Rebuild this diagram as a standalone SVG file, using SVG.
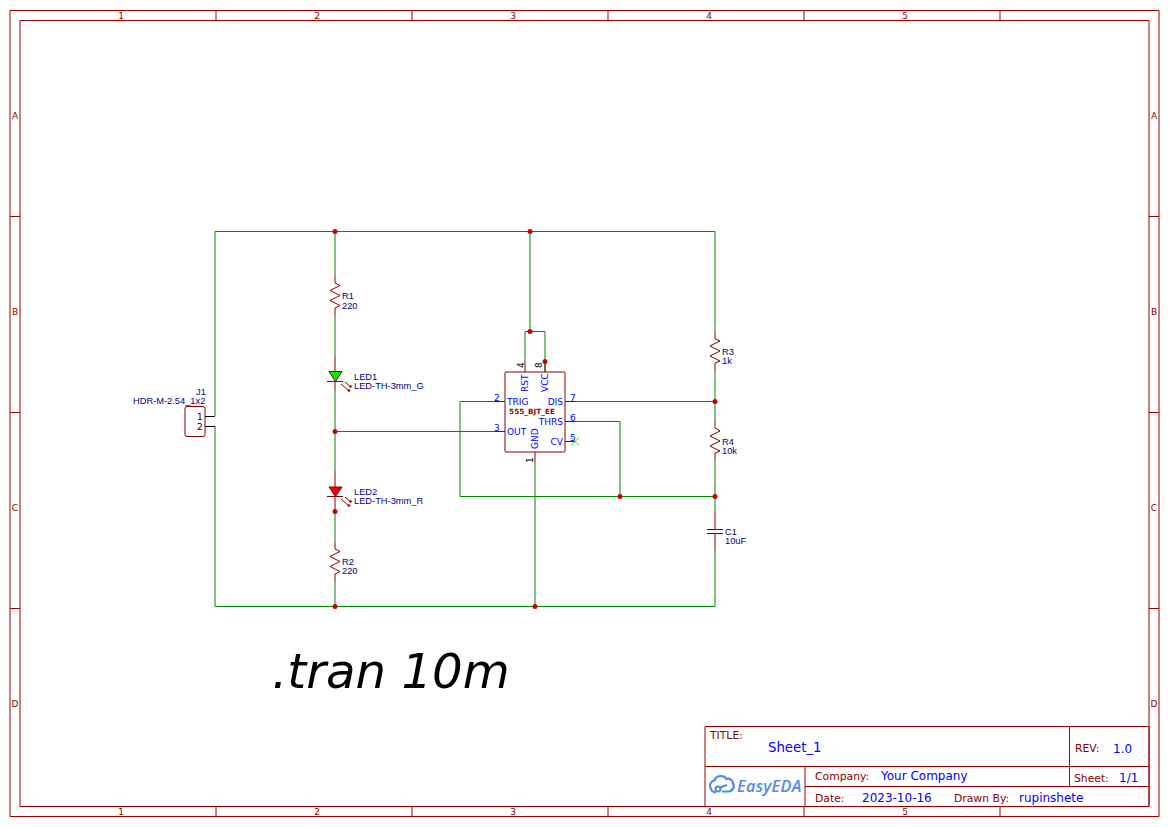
<svg xmlns="http://www.w3.org/2000/svg" width="1169" height="827" viewBox="0 0 1169 827">
<style>
text{font-family:"DejaVu Sans",sans-serif}
.f{fill:none;stroke:#990000;stroke-width:1}
.w{fill:none;stroke:#008800;stroke-width:1}
.s{fill:none;stroke:#880000;stroke-width:1}
.k{fill:none;stroke:#000;stroke-width:1}
.j{fill:#cc0000}
.h{fill:#990000}
.fr{font-size:9px;fill:#880000;text-anchor:middle}
.tl{font-size:10.8px;fill:#880000}
.tv{font-size:12px;fill:#0000ff}
.lb{font-family:"Liberation Sans",sans-serif;font-size:9.3px;fill:#000080}
.pn{font-size:9px;fill:#0000ff}
.pi{font-size:9px;fill:#000}
</style>
<rect width="1169" height="827" fill="#fff"/>
<g id="frame">
<path class="f" d="M10 10.500H1159V816.500H10ZM20 20.500H1149V806.500H20Z"/>
<path class="f" d="M216 10V20M412 10V20M608 10V20M804 10V20M1000 10V20M216 806V816M412 806V816M608 806V816M804 806V816M1000 806V816M10 216.500H20M10 412.500H20M10 608.500H20M1149 216.500H1159M1149 412.500H1159M1149 608.500H1159"/>
<g class="fr">
<text x="121" y="19">1</text><text x="317" y="19">2</text><text x="513" y="19">3</text><text x="709" y="19">4</text><text x="905" y="19">5</text>
<text x="121" y="815">1</text><text x="317" y="815">2</text><text x="513" y="815">3</text><text x="709" y="815">4</text><text x="905" y="815">5</text>
<text x="15" y="119">A</text><text x="15" y="315">B</text><text x="15" y="511">C</text><text x="15" y="707">D</text>
<text x="1154" y="119">A</text><text x="1154" y="315">B</text><text x="1154" y="511">C</text><text x="1154" y="707">D</text>
</g>
</g>
<g id="title-block">
<path class="f" d="M705 726.500H1149V806.500H705ZM705 766.500H1149M805 786.500H1149M805 766V806M1069.500 727V786"/>
<text class="tl" x="710" y="739">TITLE:</text>
<text x="768" y="752" style="font-size:13.3px;fill:#0000ff">Sheet_1</text>
<text class="tl" x="1075" y="752">REV:</text>
<text class="tv" x="1113" y="753">1.0</text>
<text class="tl" x="815" y="780">Company:</text>
<text class="tv" x="881" y="780">Your Company</text>
<text class="tl" x="1074" y="782">Sheet:</text>
<text class="tv" x="1119" y="782">1/1</text>
<text class="tl" x="815" y="802">Date:</text>
<text class="tv" x="862" y="802">2023-10-16</text>
<text class="tl" x="954" y="802">Drawn By:</text>
<text class="tv" x="1019" y="802">rupinshete</text>
<g id="logo">
<path d="M716 792.500C710 792 707 782 714.500 780.500C716 775 724 775 726.500 779C730 777.500 733 781 733 783.500C735 786 733 791 729 791.500H722" fill="none" stroke="#5588ee" stroke-width="2.200"/>
<circle cx="718" cy="789" r="2.500" fill="none" stroke="#5588ee" stroke-width="2"/>
<path d="M720 787.500L727 785" fill="none" stroke="#5588ee" stroke-width="2"/>
<text x="737" y="792" style="font-family:'Open Sans',sans-serif;font-size:16.300px;font-weight:600;font-style:italic;fill:#5588ee;letter-spacing:.3px">EasyEDA</text>
</g>
</g>
<g id="connectors">
<path class="w" d="M215 416V231.500H715V331M215 426V606.500H715V551M335 231V276M335 316V356M335 391V471M335 511V542M335 582V606M530 231V331.500M525 362V331.500H545V372M335 431.500H495M575 401.500H715M715 371V421M715 461V511M495 401.500H460V496.500H715M575 421.500H620V496M535 462V606"/>
</g>
<g id="junctions" class="j">
<circle cx="335" cy="231.500" r="2.500"/><circle cx="530" cy="231.500" r="2.500"/><circle cx="530" cy="331.500" r="2.500"/><circle cx="545" cy="361.500" r="2.500"/><circle cx="335" cy="431.500" r="2.500"/><circle cx="715" cy="401.500" r="2.500"/><circle cx="715" cy="496.500" r="2.500"/><circle cx="620" cy="496.500" r="2.500"/><circle cx="335" cy="511.500" r="2.500"/><circle cx="335" cy="606.500" r="2.500"/><circle cx="535" cy="606.500" r="2.500"/>
</g>
<g id="J1">
<rect class="s" x="185" y="406.500" width="20" height="30" rx="2"/>
<path class="k" d="M205 416.500H215M205 426.500H215"/>
<text class="lb" x="196" y="395">J1</text>
<text class="lb" x="133" y="404">HDR-M-2.54_1x2</text>
<text class="pi" x="197" y="420">1</text><text class="pi" x="197" y="430">2</text>
</g>
<g id="R1">
<path class="s" d="M335 276V283L340 285.500L330 290.500L340 295.500L330 300.500L340 305.500L335 308V316"/>
<text class="lb" x="342" y="299">R1</text><text class="lb" x="342" y="309">220</text>
</g>
<g id="LED1">
<path class="s" d="M335 356V371M335 382V391M327 381.500H343"/>
<path d="M329 371.500H342L335.500 381.500Z" fill="#00ee00" stroke="#880000"/>
<path class="s" d="M341 384L349 391M345 382L351 387"/>
<circle class="h" cx="349" cy="390.500" r="1.300"/><circle class="h" cx="350.500" cy="386.500" r="1.300"/>
<text class="lb" x="354" y="380">LED1</text><text class="lb" x="354" y="389">LED-TH-3mm_G</text>
</g>
<g id="LED2">
<path class="s" d="M335 471V487M335 497V511M327 496.500H343"/>
<path d="M329 487H342L335.500 496.500Z" fill="#ee0000" stroke="#880000"/>
<path class="s" d="M341 499L349 506M345 497L351 502"/>
<circle class="h" cx="349" cy="505.500" r="1.300"/><circle class="h" cx="350.500" cy="501.500" r="1.300"/>
<text class="lb" x="354" y="495">LED2</text><text class="lb" x="354" y="504">LED-TH-3mm_R</text>
</g>
<g id="R2">
<path class="s" d="M335 542V549L340 551.500L330 556.500L340 561.500L330 566.500L340 571.500L335 574V582"/>
<text class="lb" x="342" y="565">R2</text><text class="lb" x="342" y="574">220</text>
</g>
<g id="R3">
<path class="s" d="M715 331V339L720 341L710 346L720 351L710 356L720 361L715 363V371"/>
<text class="lb" x="722" y="355">R3</text><text class="lb" x="722" y="364">1k</text>
</g>
<g id="R4">
<path class="s" d="M715 421V428L720 431L710 436L720 441L710 446L720 451L715 453V461"/>
<text class="lb" x="722" y="445">R4</text><text class="lb" x="722" y="454">10k</text>
</g>
<g id="C1">
<path class="s" d="M715 511V529M715 534V551M707 529.500H723M707 533.500H723"/>
<text class="lb" x="725" y="535">C1</text><text class="lb" x="725" y="544">10uF</text>
</g>
<g id="U1">
<rect class="s" x="505" y="372" width="60" height="80" rx="1"/>
<path class="s" d="M525 362V372M545 362V372M495 401.500H505M495 431.500H505M565 401.500H575M565 421.500H575M565 441.500H575M535 452V462"/>
<text x="532" y="414" style="font-size:7.300px;font-weight:700;fill:#990000;text-anchor:middle">555_BJT_EE</text>
<text class="pn" x="507" y="405">TRIG</text><text class="pn" x="507" y="435">OUT</text>
<text class="pn" x="563" y="405" text-anchor="end">DIS</text><text class="pn" x="563" y="425" text-anchor="end">THRS</text><text class="pn" x="563" y="445" text-anchor="end">CV</text>
<text class="pn" transform="translate(528 392) rotate(-90)">RST</text>
<text class="pn" transform="translate(548 392) rotate(-90)">VCC</text>
<text class="pn" transform="translate(538 449) rotate(-90)">GND</text>
<text class="pn" x="494" y="401">2</text><text class="pn" x="494" y="431">3</text>
<text class="pn" x="570" y="401">7</text><text class="pn" x="570" y="421">6</text><text class="pn" x="570" y="441">5</text>
<text class="pi" transform="translate(524 368) rotate(-90)">4</text>
<text class="pi" transform="translate(542 368) rotate(-90)">8</text>
<text class="pi" transform="translate(533 463) rotate(-90)">1</text>
<path d="M571 437.500L579 445.500M579 437.500L571 445.500" fill="none" stroke="#33cc33"/>
</g>
<text x="272" y="688" style="font-size:48.200px;font-style:italic;fill:#000">.tran 10m</text>
</svg>
